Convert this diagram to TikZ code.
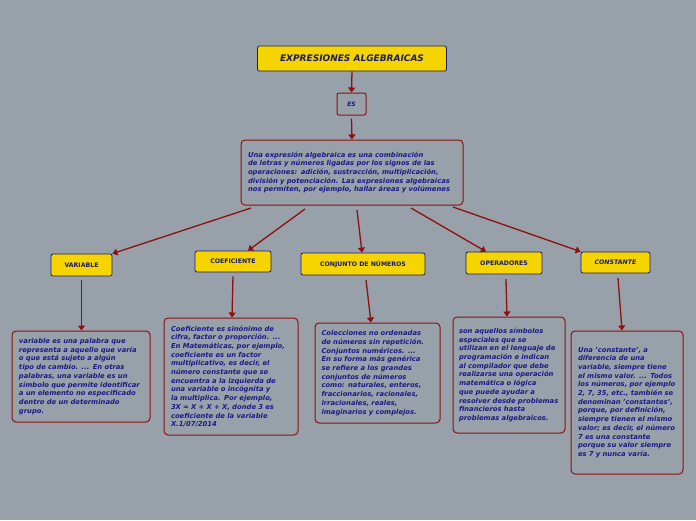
\documentclass[tikz,border=0pt]{standalone}
\usepackage{fontspec}
\setmainfont{DejaVu Sans}
\usetikzlibrary{arrows.meta}
\hyphenpenalty=10000
\exhyphenpenalty=10000
\definecolor{bg}{HTML}{98A1A9}
\definecolor{dred}{HTML}{8E1010}
\definecolor{txt}{HTML}{1A1A8A}
\definecolor{yel}{HTML}{F5D400}
\definecolor{nav}{HTML}{1A1A70}
\begin{document}
\begin{tikzpicture}[x=1pt,y=-1pt,
 desc/.style={draw=dred,line width=1pt,rounded corners=4pt,text=txt,align=left,inner sep=4pt,
   font=\fontsize{6.8}{8.7}\selectfont\bfseries\itshape},
 cat/.style={draw=nav,fill=yel,line width=0.8pt,rounded corners=2pt,text=nav,
   font=\fontsize{6.2}{7}\selectfont\bfseries,inner sep=0pt},
 arr/.style={dred,line width=1.3pt,-{Triangle[width=7pt,length=5pt]}}]
\fill[bg] (0,0) rectangle (696,520);
\useasboundingbox (0,0) rectangle (696,520);
\node[cat,minimum width=189,minimum height=25,font=\fontsize{9}{10}\selectfont\bfseries\itshape] (title) at (352,58.5) {EXPRESIONES ALGEBRAICAS};
\node[draw=dred,fill=bg,line width=1pt,rounded corners=2pt,minimum width=29,minimum height=22,text=nav,font=\fontsize{6}{7}\selectfont\bfseries\itshape] (es) at (351.5,104) {ES};
\node[desc,text width=208,minimum width=222,minimum height=65] (main) at (352,172.5) {Una expresión algebraica es una combinación de letras y números ligadas por los signos de las operaciones: adición, sustracción, multiplicación, división y potenciación. Las expresiones algebraicas nos permiten, por ejemplo, hallar áreas y volúmenes};
\node[cat,minimum width=61,minimum height=22] (var) at (81.5,265) {VARIABLE};
\node[cat,minimum width=76,minimum height=21] (coef) at (233,261.5) {COEFICIENTE};
\node[cat,minimum width=124,minimum height=22] (conj) at (363,264) {CONJUNTO DE NÚMEROS};
\node[cat,minimum width=76,minimum height=22] (oper) at (504,263) {OPERADORES};
\node[cat,minimum width=69,minimum height=21,font=\fontsize{6.2}{7}\selectfont\bfseries\itshape] (cons) at (615.5,262.5) {CONSTANTE};
\node[desc,text width=124,minimum width=138,minimum height=91] (dvar) at (81,376.5) {variable es una palabra que representa a aquello que varía o que está sujeto a algún tipo de cambio. ... En otras palabras, una variable es un símbolo que permite identificar a un elemento no especificado dentro de un determinado grupo.};
\node[desc,text width=120,minimum width=134,minimum height=117] (dcoef) at (231,376.5) {Coeficiente es sinónimo de cifra, factor o proporción. ... En Matemáticas, por ejemplo, coeficiente es un factor multiplicativo, es decir, el número constante que se encuentra a la izquierda de una variable o incógnita y la multiplica. Por ejemplo, 3X = X + X + X, donde 3 es coeficiente de la variable X.1/07/2014};
\node[desc,text width=112,minimum width=125,minimum height=100] (dconj) at (377.5,373) {Colecciones no ordenadas de números sin repetición. Conjuntos numéricos. ... En su forma más genérica se refiere a los grandes conjuntos de números como: naturales, enteros, fraccionarios, racionales, irracionales, reales, imaginarios y complejos.};
\node[desc,text width=100,minimum width=112,minimum height=116] (doper) at (509,375) {son aquellos símbolos especiales que se utilizan en el lenguaje de programación e indican al compilador que debe realizarse una operación matemática o lógica que puede ayudar a resolver desde problemas financieros hasta problemas algebraicos.};
\node[desc,text width=98,minimum width=112,minimum height=143] (dcons) at (627,402.5) {Una 'constante', a diferencia de una variable, siempre tiene el mismo valor. ... Todos los números, por ejemplo 2, 7, 35, etc., también se denominan 'constantes', porque, por definición, siempre tienen el mismo valor; es decir, el número 7 es una constante porque su valor siempre es 7 y nunca varía.};
\draw[arr] (title.south) -- (es.north);
\draw[arr] ([yshift=-3pt]es.south) -- (main.north);
\coordinate (m1) at (251,208); \coordinate (m2) at (305,209); \coordinate (m3) at (357,210);
\coordinate (m4) at (411,208); \coordinate (m5) at (453,207);
\draw[arr] (m1) -- (var.north east);
\draw[arr] (m2) -- (coef.north -| 248,0) ;
\draw[arr] (m3) -- (conj.north -| 362,0);
\draw[arr] (m4) -- (oper.north -| 486,0);
\draw[arr] (m5) -- (cons.north west);
\draw[arr] ([yshift=-4pt]var.south) -- (dvar.north -| var.south);
\draw[arr] ([yshift=-4pt]coef.south) -- (dcoef.north -| 232,0);
\draw[arr] (366,280) -- (dconj.north -| 371,0);
\draw[arr] (506,279) -- (doper.north -| 507,0);
\draw[arr] (618,278) -- (dcons.north -| 622,0);
\end{tikzpicture}
\end{document}
